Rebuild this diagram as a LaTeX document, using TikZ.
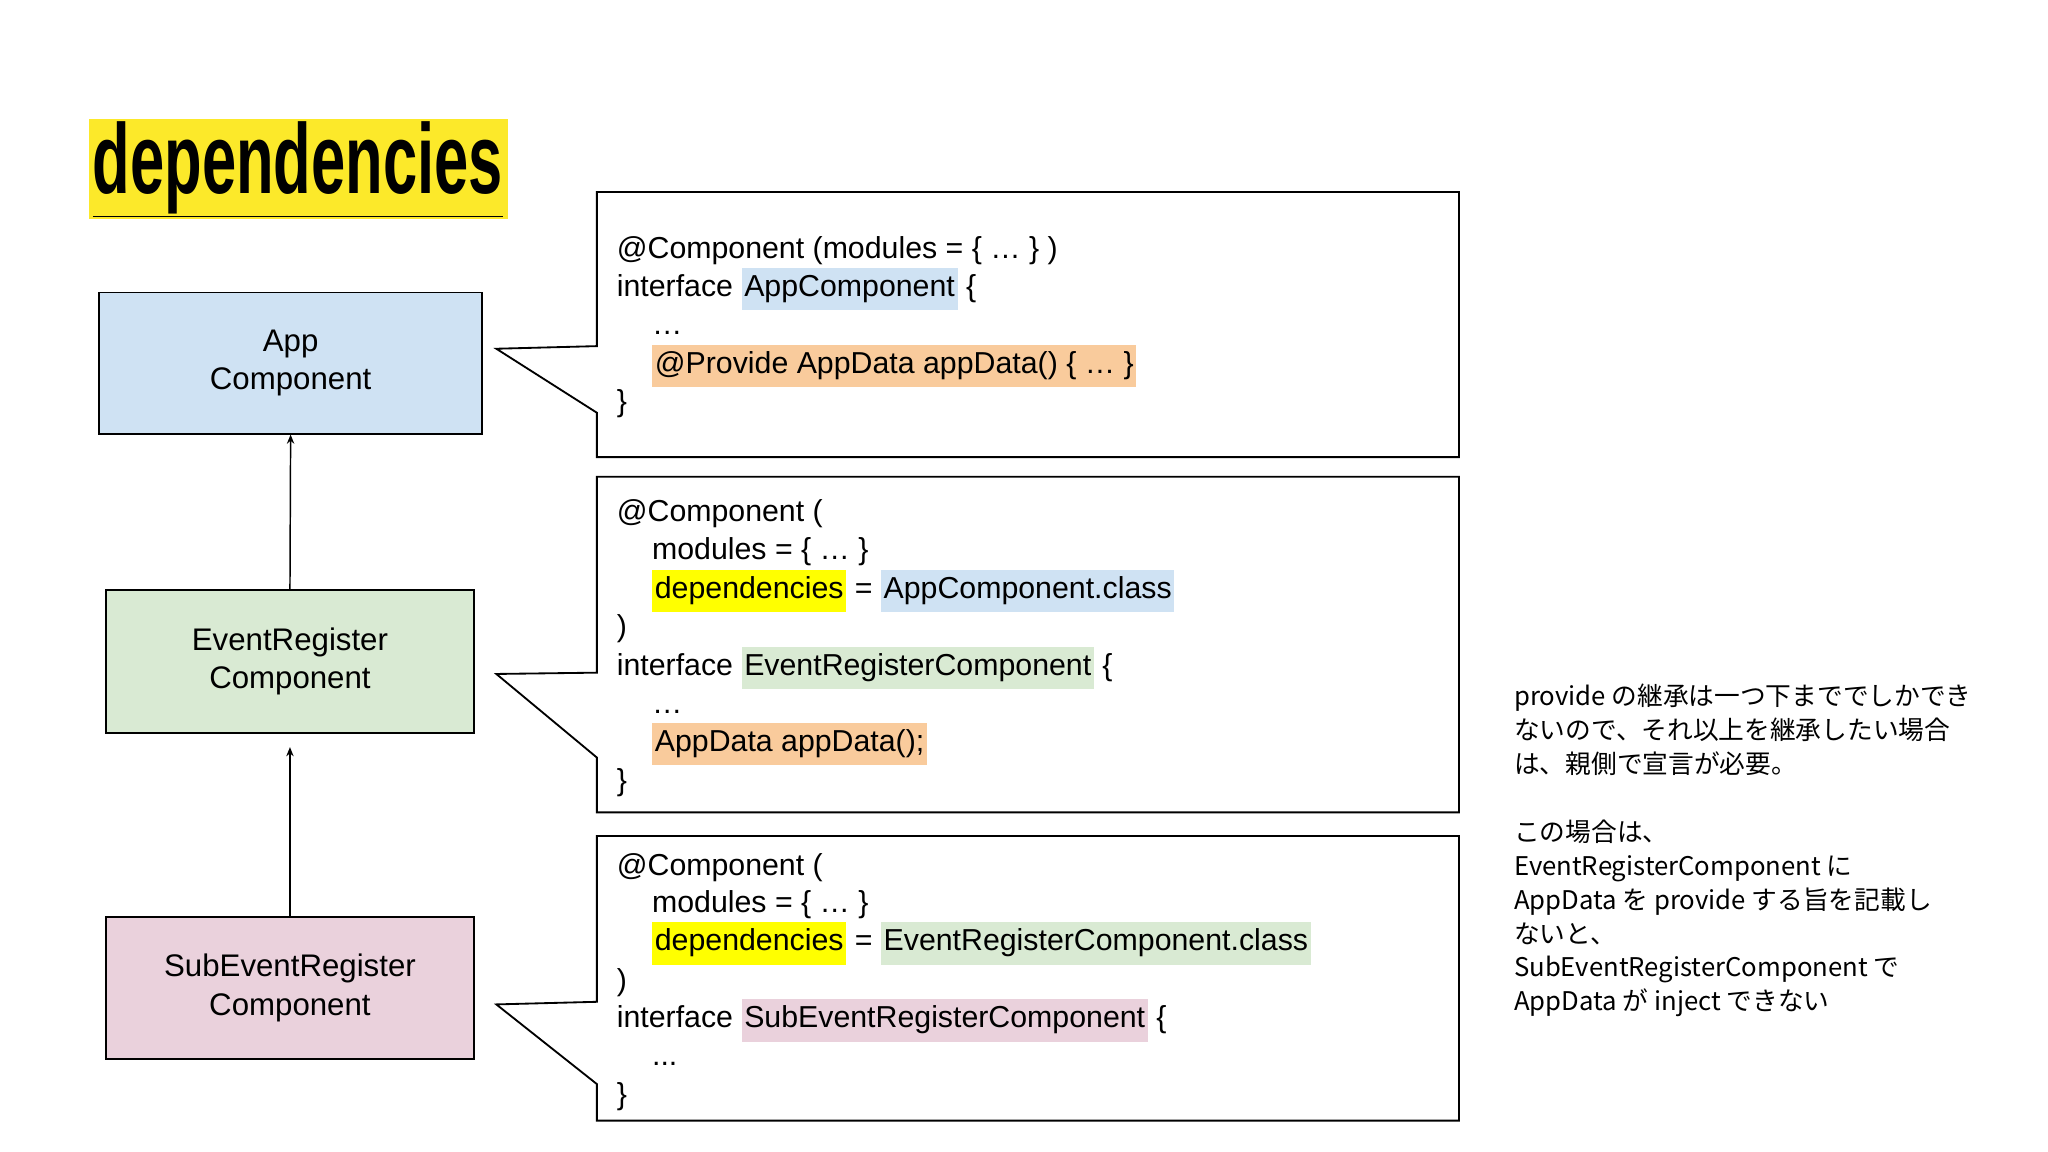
\documentclass[tikz,border=0pt]{standalone}
\usepackage{fontspec}
\setmainfont{Liberation Sans}
\newfontfamily\jp{Noto Sans CJK JP}
\usetikzlibrary{arrows.meta}
\definecolor{cblue}{HTML}{CFE2F3}
\definecolor{cgreen}{HTML}{D9EAD3}
\definecolor{cpink}{HTML}{EAD1DC}
\definecolor{corange}{HTML}{F9CB9C}
\definecolor{cyel}{HTML}{FFFF00}
\definecolor{tyel}{HTML}{FCE92A}
\newcommand{\hlx}[2]{{\setlength{\fboxsep}{1.5pt}\colorbox{#1}{\strut #2}}}
\begin{document}
\begin{tikzpicture}[x=0.025cm,y=-0.025cm,
  comp/.style={draw,line width=1pt,minimum width=#1,align=center,font=\fontsize{17}{21}\selectfont,inner sep=0},
  code/.style={anchor=base west,inner sep=0,font=\fontsize{16.5}{20}\selectfont},
  callout/.style={draw,line width=1pt,fill=white},
  note/.style={anchor=base west,inner sep=0,font=\jp\fontsize{14}{17}\selectfont},
  arr/.style={-{Stealth[length=5pt,width=4pt]},line width=0.8pt}]
\useasboundingbox (0,0) rectangle (1568,882);
% title
\fill[tyel] (68,91) rectangle (389,168);
\node[inner sep=0] (title) at (228,130) {\scalebox{0.62}[1]{\fontsize{54}{60}\selectfont\bfseries\underline{dependencies}}};
% components
\node[comp, fill=cblue, minimum width=293*0.025cm, minimum height=108*0.025cm] (app) at (222.5,278) {App\\Component};
\node[comp, fill=cgreen, minimum width=282*0.025cm, minimum height=109*0.025cm] (evt) at (222,506.5) {EventRegister\\Component};
\node[comp, fill=cpink, minimum width=282*0.025cm, minimum height=109*0.025cm] (sub) at (222,756.5) {SubEventRegister\\Component};
\coordinate (evtb) at (222,572);
\draw[arr] (evt.north) -- (app.south);
\draw[arr] (sub.north) -- (evtb);
% callouts
\draw[callout] (457,265) -- (457,147) -- (1117,147) -- (1117,350) -- (457,350) -- (457,316) -- (380,267) -- cycle;
\draw[callout] (457,515) -- (457,365) -- (1117,365) -- (1117,622) -- (457,622) -- (457,580) -- (380,516) -- cycle;
\draw[callout] (457,767) -- (457,640) -- (1117,640) -- (1117,858) -- (457,858) -- (457,830) -- (380,769) -- cycle;
% box1
\node[code] (a1) at (472,198) {@Component (modules = \{ … \} )};
\node[code] (a2) at (472,227) {interface \hlx{cblue}{AppComponent} \{};
\node[code] (a3) at (499,256) {…};
\node[code] (a4) at (499,286) {\hlx{corange}{@Provide AppData appData() \{ … \}}};
\node[code] (a5) at (472,315) {\}};
% box2
\node[code] (b1) at (472,399) {@Component (};
\node[code] (b2) at (499,428) {modules = \{ … \}};
\node[code] (b3) at (499,458) {\hlx{cyel}{dependencies} = \hlx{cblue}{AppComponent.class}};
\node[code] (b4) at (472,487) {)};
\node[code] (b5) at (472,517) {interface \hlx{cgreen}{EventRegisterComponent} \{};
\node[code] (b6) at (499,546) {…};
\node[code] (b7) at (499,575) {\hlx{corange}{AppData appData();}};
\node[code] (b8) at (472,605) {\}};
% box3
\node[code] (c1) at (472,670) {@Component (};
\node[code] (c2) at (499,699) {modules = \{ … \}};
\node[code] (c3) at (499,728) {\hlx{cyel}{dependencies} = \hlx{cgreen}{EventRegisterComponent.class}};
\node[code] (c4) at (472,758) {)};
\node[code] (c5) at (472,787) {interface \hlx{cpink}{SubEventRegisterComponent} \{};
\node[code] (c6) at (499,816) {...};
\node[code] (c7) at (472,846) {\}};
% notes
\node[note] (n1) at (1159,540) {provide の継承は一つ下まででしかでき};
\node[note] (n2) at (1159,566) {ないので、それ以上を継承したい場合};
\node[note] (n3) at (1159,592) {は、親側で宣言が必要。};
\node[note] (n4) at (1159,644) {この場合は、};
\node[note] (n5) at (1159,670) {EventRegisterComponent に};
\node[note] (n6) at (1159,696) {AppData を provide する旨を記載し};
\node[note] (n7) at (1159,722) {ないと、};
\node[note] (n8) at (1159,748) {SubEventRegisterComponent で};
\node[note] (n9) at (1159,774) {AppData が inject できない};
\end{tikzpicture}
\end{document}
